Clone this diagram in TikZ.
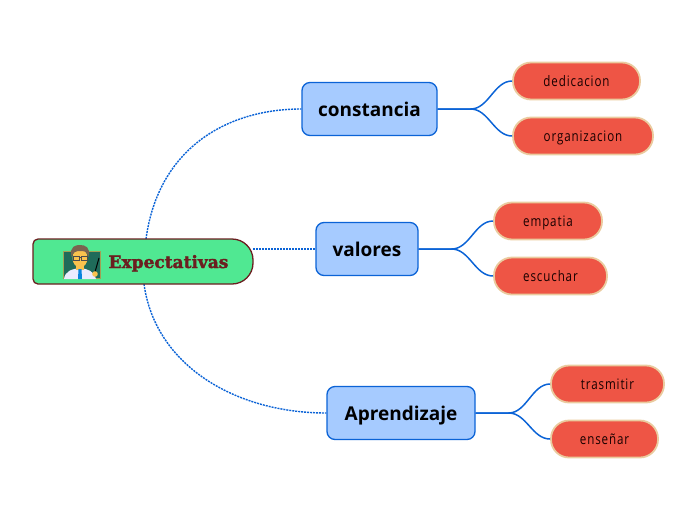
\documentclass[tikz,border=0pt]{standalone}
\usepackage{xcolor}
\usepackage{fontspec}
\setmainfont{Open Sans}
\newfontfamily\rootfont[FakeBold=2]{DejaVu Serif}
\newfontfamily\leaffont[LetterSpace=6,FakeStretch=0.8]{Open Sans}
\definecolor{linkblue}{HTML}{0B63D6}
\definecolor{midfill}{HTML}{A6CBFF}
\definecolor{rootfill}{HTML}{50E892}
\definecolor{rootline}{HTML}{6B1E20}
\definecolor{leaffill}{HTML}{EE5545}
\definecolor{leafline}{HTML}{EACB9F}
\definecolor{boardgreen}{HTML}{1F6B5A}
\definecolor{skin}{HTML}{F9C24E}
\definecolor{hair}{HTML}{7A6350}
\tikzset{
  midbox/.style={draw=linkblue,fill=midfill,rounded corners=8pt,line width=1.3pt,minimum height=53pt,inner sep=0pt,text height=16pt,text depth=2pt,font=\bfseries\fontsize{19}{22}\selectfont},
  leafbox/.style={draw=leafline,fill=leaffill,rounded corners=18pt,line width=1.8pt,minimum height=37pt,inner sep=0pt,text height=13pt,text depth=2pt,font=\leaffont\fontsize{14.5}{18}\selectfont,text=black!90!red},
  dotlink/.style={draw=linkblue,line width=1.4pt,dash pattern=on 2pt off 1pt},
  leaflink/.style={draw=linkblue,line width=1.5pt}
}
\begin{document}
\begin{tikzpicture}[x=1pt,y=-1pt]
\useasboundingbox (0,0) rectangle (696,520);
\node[midbox,minimum width=135pt] (constancia) at (369.5,109) {constancia};
\node[midbox,minimum width=102pt] (valores) at (367,249) {valores};
\node[midbox,minimum width=148pt] (aprendizaje) at (401,413) {Aprendizaje};
\node[leafbox,minimum width=127pt] (dedicacion) at (576.5,81) {dedicacion};
\node[leafbox,minimum width=140pt] (organizacion) at (583,136) {organizacion};
\node[leafbox,minimum width=108pt] (empatia) at (548,221) {empatia};
\node[leafbox,minimum width=113pt] (escuchar) at (550.5,276) {escuchar};
\node[leafbox,minimum width=113pt] (trasmitir) at (607.5,384) {trasmitir};
\node[leafbox,minimum width=107pt] (ensenar) at (604.5,439) {enseñar};
\coordinate (rootup) at (146,239);
\coordinate (rootright) at (253,249);
\coordinate (rootdown) at (144,284);
% dotted links
\draw[dotlink] (rootup) .. controls (158,150) and (225,109) .. (constancia.west);
\draw[dotlink] (rootright) -- (valores.west);
\draw[dotlink] (rootdown) .. controls (155,365) and (235,413) .. (aprendizaje.west);
% branches
\draw[leaflink] (constancia.east) -- ++(33,0) .. controls +(18,0) and +(-18,0) .. (dedicacion.west);
\draw[leaflink] (constancia.east) -- ++(33,0) .. controls +(18,0) and +(-18,0) .. (organizacion.west);
\draw[leaflink] (valores.east) -- ++(33,0) .. controls +(18,0) and +(-18,0) .. (empatia.west);
\draw[leaflink] (valores.east) -- ++(33,0) .. controls +(18,0) and +(-18,0) .. (escuchar.west);
\draw[leaflink] (aprendizaje.east) -- ++(33,0) .. controls +(18,0) and +(-18,0) .. (trasmitir.west);
\draw[leaflink] (aprendizaje.east) -- ++(33,0) .. controls +(18,0) and +(-18,0) .. (ensenar.west);
% root
\draw[draw=rootline,fill=rootfill,line width=1.3pt] (33,261) [rounded corners=5pt] -- (33,239) [rounded corners=21pt] -- (253,239) -- (253,284) [rounded corners=5pt] -- (33,284) -- cycle;
\node[font=\rootfont\bfseries\fontsize{17}{20}\selectfont,text=rootline,inner sep=0pt,text height=14pt,text depth=2pt] (root) at (168.5,262) {Expectativas};
% teacher icon
\fill[boardgreen] (63,251) rectangle (100,278);
\draw[skin!60!boardgreen,line width=.6pt] (63,251) rectangle (100,278);
\fill[white!92!blue] (64,279) .. controls (65,271) and (72,269) .. (80,268) .. controls (88,269) and (94,271) .. (96,279) -- cycle;
\fill[skin] (76,265) rectangle (84,270);
\fill[linkblue!80!cyan] (78.5,269) -- (81.5,269) -- (82,279) -- (78,279) -- cycle;
\fill[skin] (80,258) ellipse (7.5 and 9.5);
\fill[hair] (71.5,257) .. controls (69,246) and (76,245) .. (80,245) .. controls (85,245) and (91,247) .. (88.5,257) .. controls (87,251) and (84,251) .. (80,251) .. controls (76,251) and (73,252) .. (71.5,257) -- cycle;
\draw[black!70,line width=.8pt] (73,256) rectangle (79,260) (81,256) rectangle (87,260) (79,257) -- (81,257);
\draw[black,line width=1pt] (95,272) -- (99,258);
\fill[skin] (95,274) circle (2.8);
\end{tikzpicture}
\end{document}
